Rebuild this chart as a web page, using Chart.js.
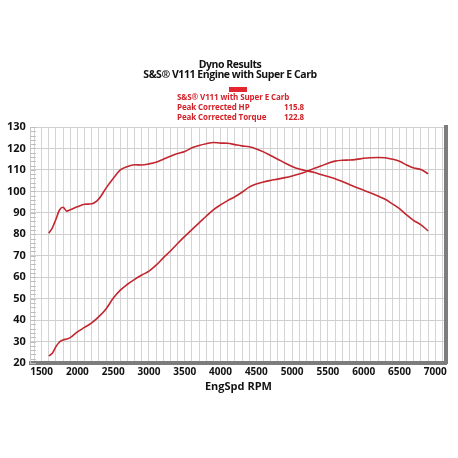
<!DOCTYPE html>
<html>
<head>
<meta charset="utf-8">
<script src="https://cdn.jsdelivr.net/npm/chart.js@4"></script>
<style>
  html,body{margin:0;padding:0;background:#fff;}
  #wrap{position:relative;width:458px;height:458px;}
  canvas{position:absolute;left:0;top:0;}
  .t{position:absolute;font-family:"Open Sans",sans-serif;font-weight:700;white-space:nowrap;}
  .title{left:0;width:460px;text-align:center;font-size:10.5px;color:#111;letter-spacing:-0.45px;}
  .red{color:#d2232a;font-size:8px;letter-spacing:-0.1px;}
  #swatch{position:absolute;left:229px;top:87px;width:18px;height:5px;background:#e3262f;}
</style>
</head>
<body>
<div id="wrap">
  <canvas id="c" width="458" height="458"></canvas>
  <div class="t title" style="top:57px;">Dyno Results</div>
  <div class="t title" style="top:67px;">S&amp;S® V111 Engine with Super E Carb</div>
  <div id="swatch"></div>
  <div class="t red" style="left:177px;top:91px;">S&amp;S® V111 with Super E Carb</div>
  <div class="t red" style="left:177px;top:101px;">Peak Corrected HP</div>
  <div class="t red" style="left:284px;top:101px;width:20px;text-align:right;">115.8</div>
  <div class="t red" style="left:177px;top:111px;">Peak Corrected Torque</div>
  <div class="t red" style="left:284px;top:111px;width:20px;text-align:right;">122.8</div>
</div>
<script>
const rpm = [1600,1650,1700,1750,1800,1850,1900,2000,2100,2200,2300,2400,2500,2600,2700,2800,2900,3000,3100,3200,3300,3400,3500,3600,3700,3800,3900,4000,4100,4200,4300,4400,4500,4600,4700,4800,4900,5000,5100,5200,5300,5400,5500,5600,5700,5800,5900,6000,6100,6200,6300,6400,6500,6600,6700,6800,6900];
const torque = [80.5,83,87,91.3,92.6,90.8,91.4,92.8,94,94.2,96.5,101.5,106,110,111.6,112.4,112.3,112.8,113.6,115,116.4,117.6,118.6,120.3,121.4,122.2,122.8,122.5,122.4,121.8,121.2,120.8,119.8,118.4,116.7,115,113.2,111.6,110.4,109.6,108.9,107.9,106.9,105.9,104.6,103.2,101.8,100.5,99.2,97.8,96.3,94.2,92,89,86.4,84.4,81.6];
const hp = [23.3,24.5,27.6,29.8,30.7,31.2,31.8,34.5,36.6,38.7,41.6,45.2,50.2,54,56.7,59,61,62.8,65.6,69,72.2,75.7,79,82.2,85.3,88.4,91.4,93.7,95.7,97.5,99.6,102,103.4,104.4,105.1,105.7,106.4,107.2,108.1,109.2,110.6,111.8,113.1,114.1,114.5,114.6,114.9,115.4,115.7,115.8,115.7,115,114,112.3,110.9,110.2,108.2];
const xMin = 1350, xMax = 7150, xStep = 100, xLabelEvery = 500;
const yMin = 20, yMax = 130, yStep = 10;

const toPts = arr => arr.map((v,i)=>({x:rpm[i],y:v}));
const lineColor = '#c3262e';

const ruler = {
  id:'ruler',
  afterDatasetsDraw(chart){
    const ys = chart.scales.y, ca = chart.chartArea, ctx = chart.ctx;
    ctx.save();
    ctx.strokeStyle = '#bdbdbd';
    ctx.lineWidth = 1;
    for(let v = yMin; v <= yMax; v += 2){
      const p = Math.round(ys.getPixelForValue(v)) + 0.5;
      ctx.beginPath();
      ctx.moveTo(ca.left, p);
      ctx.lineTo(ca.left + 5, p);
      ctx.stroke();
    }
    ctx.restore();
  }
};

new Chart(document.getElementById('c'), {
  type:'line',
  data:{datasets:[
    {data:toPts(torque), borderColor:lineColor, borderWidth:1.6, pointRadius:0, cubicInterpolationMode:'monotone', fill:false},
    {data:toPts(hp), borderColor:lineColor, borderWidth:1.6, pointRadius:0, cubicInterpolationMode:'monotone', fill:false}
  ]},
  options:{
    responsive:false, animation:false,
    layout:{padding:{top:127,left:2,right:12,bottom:66}},
    plugins:{legend:{display:false}, tooltip:{enabled:false}, title:{display:false}},
    scales:{
      x:{type:'linear', min:xMin, max:xMax,
        afterBuildTicks(scale){
          const t = [];
          for(let v = Math.ceil(xMin/xStep)*xStep; v <= xMax; v += xStep) t.push({value:v});
          scale.ticks = t;
        },
        ticks:{autoSkip:false, maxRotation:0, padding:3, color:'#111',
          font:{family:'Open Sans', weight:'bold', size:10},
          callback:v => (v % xLabelEvery === 0 ? String(v) : '')},
        grid:{color:'#d4d4d4', lineWidth:1, drawTicks:false},
        border:{color:'#7d7d7d', width:4},
        title:{display:true, text:'EngSpd RPM', color:'#111', padding:{top:0,bottom:0}, font:{family:'Open Sans', weight:'bold', size:11, lineHeight:1.0}}
      },
      y:{min:yMin, max:yMax,
        ticks:{stepSize:yStep, padding:5, color:'#111', font:{family:'Open Sans', weight:'bold', size:11}},
        grid:{color:'#d0d0d0', lineWidth:1, drawTicks:false},
        border:{color:'#c8c8c8', width:1}
      },
      y2:{position:'right', min:yMin, max:yMax, display:true,
        ticks:{display:false}, grid:{display:false, drawTicks:false},
        border:{color:'#7d7d7d', width:4}
      }
    }
  },
  plugins:[ruler]
});
</script>
</body>
</html>
